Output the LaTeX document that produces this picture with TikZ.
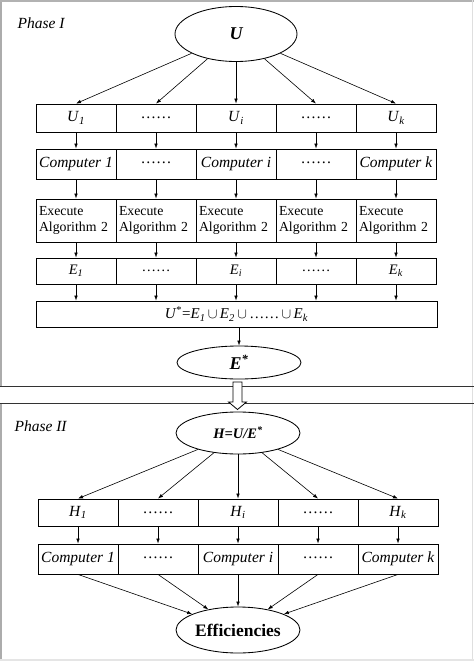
\documentclass[tikz,border=0pt]{standalone}
\usepackage{fontspec}
\setmainfont{Liberation Serif}
\usetikzlibrary{arrows.meta,shapes.geometric}
\newcommand\mysub[2]{\textit{#1}\textsubscript{\textit{#2}}}
\newcommand\mydots{……}
\begin{document}
\begin{tikzpicture}[x=1pt,y=-1pt,
  cell/.style={draw, rectangle, minimum width=80, inner sep=0, line width=0.85pt,
    font=\fontsize{15.5}{18}\selectfont},
  ell/.style={draw, ellipse, inner sep=0, line width=0.85pt},
  conn/.style={-{Latex[length=5pt,width=3.6pt]}, line width=0.6pt},
  exe/.style={cell, minimum height=43, text width=74, align=left,
    font=\fontsize{13.8}{16.5}\selectfont},
  phase/.style={anchor=west, font=\fontsize{15.5}{18}\selectfont\itshape}
]
\useasboundingbox (0,0) rectangle (474,661);
% frames
\draw[gray!65, line width=2] (1,0) -- (1,386) (1,403) -- (1,661);
\draw[gray!60, line width=1.6] (0,1) -- (474,1);
\draw[gray!25, line width=1.5] (472.5,0) -- (472.5,661);
\draw[gray!20, line width=1.5] (0,660) -- (474,660);
\draw[black!80, line width=0.9] (0,386) -- (474,386) (0,403) -- (474,403);

\node[phase] (p1) at (14,23) {Phase I};
\node[phase] (p2) at (11,426) {Phase II};

% Phase I
\node[ell, minimum width=122, minimum height=55, font=\fontsize{18}{20}\selectfont\bfseries\itshape] (U) at (236,34) {U};

\node[cell, minimum height=28] (u1) at (76,118) {\mysub{U}{1}};
\node[cell, minimum height=28] (u2) at (156,118) {\mydots};
\node[cell, minimum height=28] (u3) at (236,118) {\mysub{U}{i}};
\node[cell, minimum height=28] (u4) at (316,118) {\mydots};
\node[cell, minimum height=28] (u5) at (396,118) {\mysub{U}{k}};

\node[cell, minimum height=30] (c1) at (76,164) {\textit{Computer 1}};
\node[cell, minimum height=30] (c2) at (156,164) {\raisebox{3pt}{\mydots}};
\node[cell, minimum height=30] (c3) at (236,164) {\textit{Computer i}};
\node[cell, minimum height=30] (c4) at (316,164) {\raisebox{3pt}{\mydots}};
\node[cell, minimum height=30] (c5) at (396,164) {\textit{Computer k}};

\node[exe] (x1) at (76,220.5) {Execute\\Algorithm 2};
\node[exe] (x2) at (156,220.5) {Execute\\Algorithm 2};
\node[exe] (x3) at (236,220.5) {Execute\\Algorithm 2};
\node[exe] (x4) at (316,220.5) {Execute\\Algorithm 2};
\node[exe] (x5) at (396,220.5) {Execute\\Algorithm 2};

\node[cell, minimum height=26, font=\fontsize{14.5}{17}\selectfont] (e1) at (76,271) {\mysub{E}{1}};
\node[cell, minimum height=26, font=\fontsize{14.5}{17}\selectfont] (e2) at (156,271) {\mydots};
\node[cell, minimum height=26, font=\fontsize{14.5}{17}\selectfont] (e3) at (236,271) {\mysub{E}{i}};
\node[cell, minimum height=26, font=\fontsize{14.5}{17}\selectfont] (e4) at (316,271) {\mydots};
\node[cell, minimum height=26, font=\fontsize{14.5}{17}\selectfont] (e5) at (396,271) {\mysub{E}{k}};

\node[cell, minimum width=401, minimum height=26, font=\fontsize{15}{17}\selectfont] (us) at (236.5,314)
  {\textit{U}\textsuperscript{*}=\mysub{E}{1}$\,\cup\,$\mysub{E}{2}$\,\cup\,$\mydots$\,\cup\,$\mysub{E}{k}};

\node[ell, minimum width=124, minimum height=33, font=\fontsize{18}{20}\selectfont\bfseries\itshape] (Es) at (239,362.5) {E\textsuperscript{*}};

\foreach \i in {1,...,5}{
  \draw[conn] (U) -- (u\i.north);
  \draw[conn] (u\i.south) -- (c\i.north);
  \draw[conn] (c\i.south) -- (x\i.north);
  \draw[conn] (x\i.south) -- (e\i.north);
  \draw[conn] (e\i.south) -- (e\i.south |- us.north);
}
\draw[conn] (Es.north |- us.south) -- (Es.north);

% hollow transfer arrow
\draw[fill=white, line width=0.8pt] (233,382) -- (242,382) -- (242,402) -- (246.5,402)
  -- (237.5,409.5) -- (228.5,402) -- (233,402) -- cycle;

% Phase II
\node[ell, minimum width=124, minimum height=42, font=\fontsize{14.5}{17}\selectfont\bfseries\itshape] (H) at (238,433) {H=U/E\textsuperscript{*}};

\node[cell, minimum height=27] (h1) at (78,512.5) {\mysub{H}{1}};
\node[cell, minimum height=27] (h2) at (158,512.5) {\mydots};
\node[cell, minimum height=27] (h3) at (238,512.5) {\mysub{H}{i}};
\node[cell, minimum height=27] (h4) at (318,512.5) {\mydots};
\node[cell, minimum height=27] (h5) at (398,512.5) {\mysub{H}{k}};

\node[cell, minimum height=30] (d1) at (78,559) {\textit{Computer 1}};
\node[cell, minimum height=30] (d2) at (158,559) {\raisebox{3pt}{\mydots}};
\node[cell, minimum height=30] (d3) at (238,559) {\textit{Computer i}};
\node[cell, minimum height=30] (d4) at (318,559) {\raisebox{3pt}{\mydots}};
\node[cell, minimum height=30] (d5) at (398,559) {\textit{Computer k}};

\node[ell, minimum width=124, minimum height=46, font=\fontsize{17.5}{20}\selectfont\bfseries] (Ef) at (238,630) {Efficiencies};

\foreach \i in {1,...,5}{
  \draw[conn] (H) -- (h\i.north);
  \draw[conn] (h\i.south) -- (d\i.north);
  \draw[conn] (d\i.south) -- (Ef);
}
\end{tikzpicture}
\end{document}
